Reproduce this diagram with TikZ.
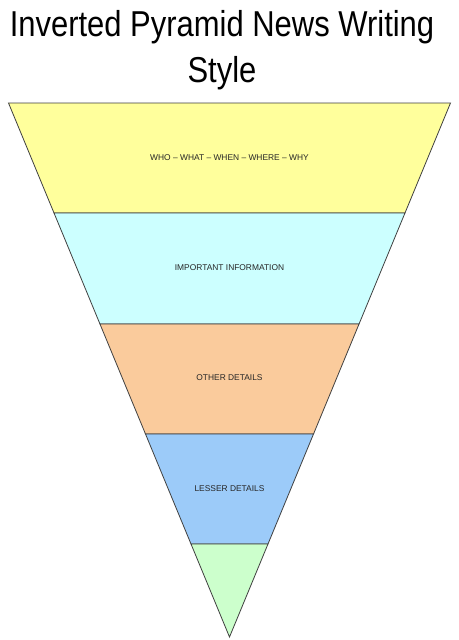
\documentclass[tikz,border=0pt]{standalone}
\usepackage{fontspec}
\setmainfont{Liberation Sans}
\newfontfamily\titlefont[FakeStretch=0.86]{Liberation Sans}
\usetikzlibrary{calc}
\definecolor{cyellow}{HTML}{FFFF9C}
\definecolor{ccyan}{HTML}{CCFFFF}
\definecolor{corange}{HTML}{FACB9C}
\definecolor{cblue}{HTML}{9CCBF9}
\definecolor{cgreen}{HTML}{CCFFCC}
\definecolor{cedge}{HTML}{404040}
\begin{document}
\begin{tikzpicture}[x=1pt,y=-1pt,
  band/.style={draw=cedge,line width=0.8pt,line join=miter},
  ttl/.style={font=\titlefont\fontsize{36}{36}\selectfont,anchor=base,inner sep=0pt},
  lbl/.style={font=\fontsize{8.4}{9}\selectfont,text=black!85,inner sep=0pt}]
\useasboundingbox (0,0) rectangle (458,640);
\fill[white] (0,0) rectangle (458,640);
\coordinate (TL) at (8.5,103);
\coordinate (TR) at (450.5,103);
\coordinate (AP) at (229.5,637);
\coordinate (L1) at ($(TL)!0.206!(AP)$);
\coordinate (R1) at ($(TR)!0.206!(AP)$);
\coordinate (L2) at ($(TL)!0.4139!(AP)$);
\coordinate (R2) at ($(TR)!0.4139!(AP)$);
\coordinate (L3) at ($(TL)!0.6199!(AP)$);
\coordinate (R3) at ($(TR)!0.6199!(AP)$);
\coordinate (L4) at ($(TL)!0.8258!(AP)$);
\coordinate (R4) at ($(TR)!0.8258!(AP)$);
\draw[band,fill=cyellow] (TL) -- (TR) -- (R1) -- (L1) -- cycle;
\draw[band,fill=ccyan] (L1) -- (R1) -- (R2) -- (L2) -- cycle;
\draw[band,fill=corange] (L2) -- (R2) -- (R3) -- (L3) -- cycle;
\draw[band,fill=cblue] (L3) -- (R3) -- (R4) -- (L4) -- cycle;
\draw[band,fill=cgreen] (L4) -- (R4) -- (AP) -- cycle;
\node[ttl] (title1) at (222,36) {Inverted Pyramid News Writing};
\node[ttl] (title2) at (222,82) {Style};
\node[lbl] (t1) at (229.5,157.5) {WHO – WHAT – WHEN – WHERE – WHY};
\node[lbl] (t2) at (229.5,268) {IMPORTANT INFORMATION};
\node[lbl] (t3) at (229.5,378) {OTHER DETAILS};
\node[lbl] (t4) at (229.5,489) {LESSER DETAILS};
\end{tikzpicture}
\end{document}
